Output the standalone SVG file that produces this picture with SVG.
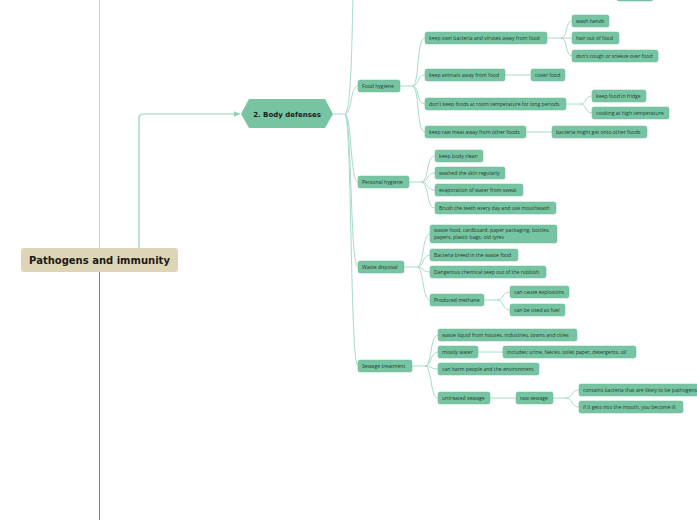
<svg xmlns="http://www.w3.org/2000/svg" width="697" height="520" viewBox="0 0 697 520">
<defs>
<style>
.n{fill:#77c4a2;stroke:#6bb895;stroke-width:0.5}
.t{font-family:"Open Sans","DejaVu Sans",sans-serif;font-size:5.1px;fill:#1f3a30}
.c{fill:none;stroke:#a6dcc6;stroke-width:1}
</style>
<marker id="ar" markerWidth="6" markerHeight="6" refX="5" refY="3" orient="auto"><path d="M0,0.8 L5,3 L0,5.2z" fill="#8fd0b4"/></marker>
</defs>
<rect width="697" height="520" fill="#fff"/>
<g id="connectors">
<line x1="99.5" y1="0" x2="99.5" y2="248" stroke="#d6cdaa" stroke-width="1"/>
<line x1="99.5" y1="272" x2="99.5" y2="520" stroke="#4f9a8c" stroke-width="1"/>
<path d="M139,248 V118 Q139,114 143,114 H240" fill="none" stroke="#8fd0b4" stroke-width="1.2" marker-end="url(#ar)"/>
<path class="c" d="M333,114 H345"/>
<path class="c" d="M345,114 C352,110 352,20 353,0"/>
<path class="c" d="M345,114 C352,114 350,86 358,86"/>
<path class="c" d="M345,114 C352,116 350,182 358,182"/>
<path class="c" d="M345,114 C352,118 350,267 358,267"/>
<path class="c" d="M345,114 C352,120 350,366 358,366"/>
<path class="c" d="M400,86 H412 C420,86 416,38 425,38 M412,86 C420,86 416,75 425,75 M412,86 C420,86 416,104 425,104 M412,86 C420,86 416,132 425,132"/>
<path class="c" d="M547,38 H561 C568,38 565,21 572,21 M561,38 H572 M561,38 C568,38 565,56 572,56"/>
<path class="c" d="M505,75 H531"/>
<path class="c" d="M566,104 H580 C587,104 585,96 592,96 M580,104 C587,104 585,113 592,113"/>
<path class="c" d="M526,132 H552"/>
<path class="c" d="M409,182 H421 C429,182 426,156 435,156 M421,182 C429,182 426,173 435,173 M421,182 C429,182 426,190 435,190 M421,182 C429,182 426,208 435,208"/>
<path class="c" d="M404,267 H417 C424,267 422,234 430,234 M417,267 C424,267 422,255 430,255 M417,267 C424,267 422,272 430,272 M417,267 C424,267 422,300 430,300"/>
<path class="c" d="M484,300 H497 C504,300 502,292 510,292 M497,300 C504,300 502,310 510,310"/>
<path class="c" d="M412,366 H425 C432,366 430,335 438,335 M425,366 C432,366 430,352 438,352 M425,366 C432,366 430,369 438,369 M425,366 C432,366 430,398 438,398"/>
<path class="c" d="M478,352 H503"/>
<path class="c" d="M490,398 H516"/>
<path class="c" d="M553,398 H566 C573,398 571,390 579,390 M566,398 C573,398 571,407 579,407"/>
</g>
<g id="root"><rect x="21" y="248" width="157" height="24" rx="3" fill="#ddd5b5"/><text x="99.5" y="264" text-anchor="middle" font-family="'DejaVu Sans',sans-serif" font-weight="bold" font-size="10" fill="#1a1a1a">Pathogens and immunity</text></g>
<g id="body"><polygon points="249,99 325,99 333,114 325,128 249,128 241,114" fill="#77c4a2"/><text x="287" y="116.5" text-anchor="middle" font-family="'DejaVu Sans',sans-serif" font-weight="bold" font-size="7" fill="#1a1a1a">2. Body defenses</text></g>
<g id="top-partial"><rect class="n" x="617" y="-20" width="36" height="21" rx="2"/></g>
<g id="food"><rect class="n" x="358" y="80" width="42" height="12" rx="2"/><text class="t" x="362" y="88">Food hygiene</text></g>
<g id="f1"><rect class="n" x="425" y="32" width="122" height="12" rx="2"/><text class="t" x="429" y="40">keep own bacteria and viruses away from food</text></g>
<g id="f1a"><rect class="n" x="572" y="15" width="37" height="12" rx="2"/><text class="t" x="576" y="23">wash hands</text></g>
<g id="f1b"><rect class="n" x="572" y="32" width="47" height="12" rx="2"/><text class="t" x="576" y="40">hair out of food</text></g>
<g id="f1c"><rect class="n" x="572" y="50" width="86" height="12" rx="2"/><text class="t" x="576" y="58">don't cough or sneeze over food</text></g>
<g id="f2"><rect class="n" x="425" y="69" width="80" height="12" rx="2"/><text class="t" x="429" y="77">keep animals away from food</text></g>
<g id="f2a"><rect class="n" x="531" y="69" width="34" height="12" rx="2"/><text class="t" x="535" y="77">cover food</text></g>
<g id="f3"><rect class="n" x="425" y="98" width="141" height="12" rx="2"/><text class="t" x="429" y="106">don't keep foods at room temperature for long periods</text></g>
<g id="f3a"><rect class="n" x="592" y="90" width="54" height="12" rx="2"/><text class="t" x="596" y="98">keep food in fridge</text></g>
<g id="f3b"><rect class="n" x="592" y="107" width="77" height="12" rx="2"/><text class="t" x="596" y="115">cooking at high temperature</text></g>
<g id="f4"><rect class="n" x="425" y="126" width="101" height="12" rx="2"/><text class="t" x="429" y="134">keep raw meat away from other foods</text></g>
<g id="f4a"><rect class="n" x="552" y="126" width="95" height="12" rx="2"/><text class="t" x="556" y="134">bacteria might get onto other foods</text></g>
<g id="personal"><rect class="n" x="358" y="176" width="51" height="12" rx="2"/><text class="t" x="362" y="184">Personal hygiene</text></g>
<g id="p1"><rect class="n" x="435" y="150" width="48" height="12" rx="2"/><text class="t" x="439" y="158">keep body clean</text></g>
<g id="p2"><rect class="n" x="435" y="167" width="70" height="12" rx="2"/><text class="t" x="439" y="175">washed the skin regularly</text></g>
<g id="p3"><rect class="n" x="435" y="184" width="88" height="12" rx="2"/><text class="t" x="439" y="192">evaporation of water from sweat</text></g>
<g id="p4"><rect class="n" x="435" y="202" width="121" height="12" rx="2"/><text class="t" x="439" y="210">Brush the teeth every day and use mouthwash</text></g>
<g id="waste"><rect class="n" x="358" y="261" width="46" height="12" rx="2"/><text class="t" x="362" y="269">Waste disposal</text></g>
<g id="w1"><rect class="n" x="430" y="225" width="127" height="18" rx="2"/><text class="t" x="434" y="232">waste food, cardboard, paper packaging, bottles,</text><text class="t" x="434" y="239">papers, plastic bags, old tyres</text></g>
<g id="w2"><rect class="n" x="430" y="249" width="88" height="12" rx="2"/><text class="t" x="434" y="257">Bacteria breed in the waste food</text></g>
<g id="w3"><rect class="n" x="430" y="266" width="116" height="12" rx="2"/><text class="t" x="434" y="274">Dangerous chemical seep out of the rubbish</text></g>
<g id="w4"><rect class="n" x="430" y="294" width="54" height="12" rx="2"/><text class="t" x="434" y="302">Produced methane</text></g>
<g id="w4a"><rect class="n" x="510" y="286" width="59" height="12" rx="2"/><text class="t" x="514" y="294">can cause explosions</text></g>
<g id="w4b"><rect class="n" x="510" y="304" width="55" height="12" rx="2"/><text class="t" x="514" y="312">can be used as fuel</text></g>
<g id="sewage"><rect class="n" x="358" y="360" width="54" height="12" rx="2"/><text class="t" x="362" y="368">Sewage treatment</text></g>
<g id="s1"><rect class="n" x="438" y="329" width="139" height="12" rx="2"/><text class="t" x="442" y="337">waste liquid from houses, industries, towns and cities</text></g>
<g id="s2"><rect class="n" x="438" y="346" width="40" height="12" rx="2"/><text class="t" x="442" y="354">mostly water</text></g>
<g id="s2a"><rect class="n" x="503" y="346" width="133" height="12" rx="2"/><text class="t" x="507" y="354">includes: urine, faeces, toilet paper, detergents, oil</text></g>
<g id="s3"><rect class="n" x="438" y="363" width="101" height="12" rx="2"/><text class="t" x="442" y="371">can harm people and the environment</text></g>
<g id="s4"><rect class="n" x="438" y="392" width="52" height="12" rx="2"/><text class="t" x="442" y="400">untreated sewage</text></g>
<g id="s4a"><rect class="n" x="516" y="392" width="37" height="12" rx="2"/><text class="t" x="520" y="400">raw sewage</text></g>
<g id="s4b"><rect class="n" x="579" y="384" width="125" height="12" rx="2"/><text class="t" x="583" y="392">contains bacteria that are likely to be pathogens</text></g>
<g id="s4c"><rect class="n" x="579" y="401" width="104" height="12" rx="2"/><text class="t" x="583" y="409">if it gets into the mouth, you become ill</text></g>
</svg>
